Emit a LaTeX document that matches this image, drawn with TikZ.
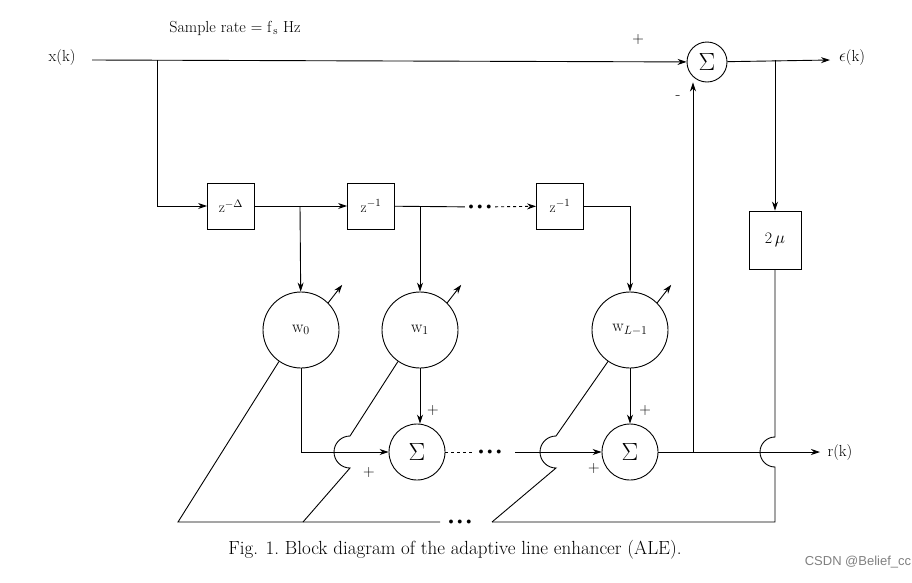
\documentclass[tikz,border=0pt]{standalone}
\usepackage{fontspec}
\newfontfamily\wm{Liberation Sans}
\usetikzlibrary{arrows.meta}
\begin{document}
\begin{tikzpicture}[x=1pt,y=-1pt,line width=0.9pt,
 >={Stealth[length=9pt,width=6pt]},
 blk/.style={draw,minimum width=47pt,minimum height=46pt,inner sep=0pt,font=\fontsize{15}{17}\selectfont},
 wt/.style={draw,circle,minimum size=76pt,inner sep=0pt,font=\fontsize{17}{19}\selectfont},
 sm/.style={draw,circle,minimum size=56pt,inner sep=0pt,font=\fontsize{30}{32}\selectfont},
 lbl/.style={font=\fontsize{16}{18}\selectfont},
 dots/.style={font=\fontsize{10}{12}\selectfont}]
\useasboundingbox (0,0) rectangle (912,582);
\node[lbl] (sr) at (235,28) {Sample rate = f$_{\,\mathrm s}$ Hz};
\node[lbl] (x) at (62,58) {x(k)};
\node[sm,minimum size=40pt,font=\fontsize{24}{26}\selectfont] (S0) at (707,62) {$\Sigma$};
\node[lbl] (e) at (852,58) {$\epsilon$(k)};
\node[lbl] (p0) at (638,40) {+};
\node[lbl] (m0) at (678,98) {-};
\node[blk] (d0) at (231,206) {z$^{-\Delta}$};
\node[blk] (d1) at (371,206) {z$^{-1}$};
\node[dots] (dt1) at (480,207) {$\bullet\,\bullet\,\bullet$};
\node[blk] (d2) at (560,206) {z$^{-1}$};
\node[draw,minimum width=52pt,minimum height=58pt,lbl] (mu) at (775,240) {2\,$\mu$};
\node[wt] (w0) at (301,330) {w$_{0}$};
\node[wt] (w1) at (420,330) {w$_{1}$};
\node[wt] (w2) at (630,330) {w$_{L-1}$};
\node[sm] (s1) at (417,452) {$\Sigma$};
\node[sm] (s2) at (630,452) {$\Sigma$};
\node[dots] (dt2) at (490,452) {$\bullet\,\bullet\,\bullet$};
\node[dots] (dt3) at (460,522) {$\bullet\,\bullet\,\bullet$};
\node[lbl] (r) at (840,452) {r(k)};
\node[lbl] at (433,410) {+};
\node[lbl] at (369,472) {+};
\node[lbl] at (645,410) {+};
\node[lbl] at (594,468) {+};
\node[font=\fontsize{19}{21}\selectfont] (cap) at (455,550) {Fig. 1.\ Block diagram of the adaptive line enhancer (ALE).};
\node[font=\wm\fontsize{13}{15}\selectfont,text=gray] (wm) at (858,562) {CSDN @Belief\_cc};
% coordinates
\coordinate (xs) at (92,60);
\coordinate (b0) at (157,60);
\coordinate (b0d) at (157,206);
\coordinate (t0) at (300,206);
\coordinate (t1) at (420,206);
\coordinate (eo) at (830,60);
\coordinate (eb) at (775,60);
\coordinate (jr) at (693,452);
\coordinate (ro) at (820,452);
\coordinate (s1o) at (445,452);
\coordinate (s2i) at (515,452);
% top line
\draw[->] (xs) -- (S0);
\draw[->] (S0) -- (eo);
\draw (b0) -- (b0d);
\draw[->] (b0d) -- (d0);
\draw[->] (d0) -- (d1);
\draw (d1) -- (dt1);
\draw[->,dashed] (dt1) -- (d2);
\draw[->] (t0) -- (w0);
\draw[->] (t1) -- (w1);
\draw[->] (d2.east) -| (w2);
\draw[->] (eb) -- (mu);
% adapt arrows
\foreach \w in {w0,w1,w2} \draw[->] (\w.45) -- ++(14,-18);
% weight outputs
\draw[->] (w0) |- (s1);
\draw[->] (w1.south) -- (w1.south |- s1.north);
\draw[->] (w2) -- (s2);
\draw (s1) -- (s1o);
\draw[dashed] (s1o) -- (dt2);
\draw[->] (s2i) -- (s2);
\draw[->] (s2) -- (ro);
\draw[->] (jr) -- (jr |- S0.south);
% feedback with hop-overs
\coordinate (h0a) at (350,436);
\coordinate (h1a) at (556,436);
\coordinate (h2a) at (775,437);
\coordinate (bl) at (178,522); \coordinate (bm) at (303,522);
\coordinate (bn) at (440,522); \coordinate (bo) at (492,522);
\coordinate (br) at (775,522);
\draw (w0.235) -- (bl) -- (bn);
\draw (w1.235) -- (h0a) arc[start angle=270,end angle=90,radius=16] -- (bm);
\draw (w2.235) -- (h1a) arc[start angle=270,end angle=90,radius=16] -- (bo);
\draw (mu) -- (h2a) arc[start angle=270,end angle=90,radius=15] -- (br) -- (bo);
\end{tikzpicture}
\end{document}
